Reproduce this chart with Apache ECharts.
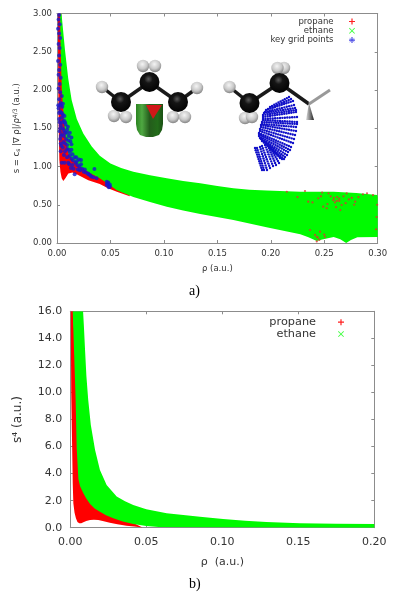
<!DOCTYPE html>
<html>
<head>
<meta charset="utf-8">
<title>propane ethane</title>
<script src="https://cdn.jsdelivr.net/npm/echarts@6/dist/echarts.min.js"></script>
<style>
html, body { margin: 0; padding: 0; background: #fff; }
#main { width: 403px; height: 595px; }
</style>
</head>
<body>
<div id="main"></div>
<script>
// panel a) outlines of the filled clouds
var aEthaneRho = [0.0028, 0.0042, 0.0075, 0.0105, 0.0137, 0.0185, 0.0246, 0.0325, 0.0400, 0.0500, 0.0600, 0.0714, 0.0870, 0.1027, 0.1180, 0.1340, 0.1500, 0.1650, 0.1800, 0.1960, 0.2276, 0.2588, 0.2800, 0.2995, 0.3000,
                  0.3000, 0.2810, 0.2750, 0.2705, 0.2650, 0.2588, 0.2480, 0.2430, 0.2352, 0.2276, 0.1960, 0.1650, 0.1340, 0.1180, 0.1027, 0.0870, 0.0714, 0.0560, 0.0480, 0.0400, 0.0300, 0.0215, 0.0150, 0.0106, 0.0085, 0.0065, 0.0045, 0.0035];
var aEthaneS   = [3.00, 3.00, 2.52, 2.15, 1.87, 1.62, 1.43, 1.26, 1.14, 1.04, 0.98, 0.93, 0.885, 0.845, 0.81, 0.78, 0.745, 0.715, 0.695, 0.685, 0.67, 0.67, 0.655, 0.627, 0.60,
                  0.08, 0.075, 0.04, 0.00, 0.05, 0.08, 0.045, 0.026, 0.075, 0.115, 0.205, 0.30, 0.38, 0.425, 0.475, 0.535, 0.60, 0.69, 0.77, 0.845, 0.92, 1.00, 1.08, 1.17, 1.33, 1.60, 2.00, 2.50];
var aPropaneRho = [0.0008, 0.0012, 0.0016, 0.0022, 0.0032, 0.0044, 0.0059, 0.0080, 0.0106, 0.0145, 0.0184, 0.0293, 0.0400, 0.0477, 0.0560, 0.0640, 0.0680,
                   0.0680, 0.0400, 0.0200, 0.0120, 0.0060, 0.0040];
var aPropaneS   = [3.00, 2.00, 1.50, 1.085, 0.93, 0.845, 0.81, 0.85, 0.91, 0.92, 0.90, 0.82, 0.77, 0.715, 0.67, 0.63, 0.61,
                   0.66, 0.95, 1.15, 1.40, 2.00, 3.00];

// panel a) red points lying over the green cloud
var aSpeckRho = [0.2320, 0.2585, 0.2617, 0.2757, 0.2710, 0.2523, 0.2490, 0.2663, 0.2444, 0.2956, 0.2862, 0.2430, 0.2454, 0.2507, 0.2460, 0.2367, 0.2414, 0.2640, 0.2600, 0.2700, 0.2560, 0.2150, 0.2350, 0.2780, 0.2995, 0.2990, 0.2985, 0.2480, 0.2650, 0.2250,
                 0.2590, 0.2620, 0.2640, 0.2680, 0.2730, 0.2790, 0.2430, 0.2440, 0.2500, 0.2540, 0.2820, 0.2900, 0.2530, 0.2470, 0.2390, 0.2610];
var aSpeckS   = [0.680, 0.560, 0.550, 0.590, 0.650, 0.454, 0.475, 0.497, 0.585, 0.627, 0.637, 0.082, 0.040, 0.082, 0.148, 0.170, 0.105, 0.580, 0.530, 0.520, 0.610, 0.670, 0.540, 0.500, 0.500, 0.340, 0.180, 0.660, 0.430, 0.600,
                 0.590, 0.600, 0.550, 0.610, 0.570, 0.540, 0.020, 0.070, 0.110, 0.650, 0.600, 0.650, 0.510, 0.610, 0.530, 0.470];

// panel a) key grid points
var aKeyRho = [0.0020, 0.0015, 0.0025, 0.0010, 0.0020, 0.0030, 0.0015, 0.0025, 0.0020, 0.0010, 0.0030, 0.0020, 0.0015, 0.0035, 0.0025, 0.0015, 0.0030, 0.0045, 0.0020, 0.0035,
               0.0050, 0.0015, 0.0030, 0.0055, 0.0045, 0.0020, 0.0065, 0.0080, 0.0035, 0.0055, 0.0025, 0.0095, 0.0075, 0.0045, 0.0110, 0.0085, 0.0030, 0.0060, 0.0125, 0.0095,
               0.0040, 0.0135, 0.0110, 0.0075, 0.0035, 0.0145, 0.0120, 0.0165, 0.0150, 0.0175, 0.0145, 0.0190, 0.0225, 0.0210, 0.0235, 0.0195, 0.0250, 0.0270, 0.0295, 0.0320,
               0.0370, 0.0350, 0.0465, 0.0475, 0.0480, 0.0485, 0.0495, 0.0105, 0.0130, 0.0165, 0.0045, 0.0070,
               0.0012, 0.0030, 0.0055, 0.0020, 0.0045, 0.0070, 0.0025, 0.0050, 0.0075, 0.0102, 0.0030, 0.0065, 0.0090, 0.0120, 0.0035, 0.0065, 0.0135, 0.0105, 0.0035, 0.0075,
               0.0135, 0.0055, 0.0095, 0.0120, 0.0065, 0.0095, 0.0135, 0.0180, 0.0205, 0.0115, 0.0155, 0.0185, 0.0225, 0.0215, 0.0260, 0.0290, 0.0310, 0.0340, 0.0480, 0.0465, 0.0495];
var aKeyS   = [2.98, 2.92, 2.86, 2.80, 2.74, 2.68, 2.60, 2.55, 2.45, 2.38, 2.33, 2.26, 2.20, 2.16, 2.08, 2.02, 1.97, 1.92, 1.88, 1.83,
               1.78, 1.76, 1.72, 1.68, 1.64, 1.62, 1.60, 1.55, 1.54, 1.50, 1.46, 1.48, 1.44, 1.42, 1.40, 1.36, 1.36, 1.32, 1.33, 1.28,
               1.27, 1.22, 1.22, 1.20, 1.20, 1.16, 1.14, 1.12, 1.08, 1.05, 1.02, 1.02, 1.085, 1.00, 0.97, 0.96, 0.93, 0.92, 0.90, 0.87,
               0.845, 0.967, 0.80, 0.78, 0.75, 0.73, 0.76, 1.05, 0.98, 0.90, 1.05, 1.05,
               1.80, 1.80, 1.82, 1.70, 1.70, 1.66, 1.58, 1.58, 1.58, 1.52, 1.50, 1.47, 1.44, 1.44, 1.40, 1.40, 1.38, 1.34, 1.30, 1.30,
               1.29, 1.25, 1.23, 1.19, 1.15, 1.12, 1.10, 1.12, 1.09, 1.03, 0.97, 1.07, 1.03, 0.95, 0.96, 0.91, 0.885, 0.86, 0.79, 0.76, 0.735];

// panel b) outlines
var bEthaneRho = [0.0016, 0.0084, 0.0089, 0.0097, 0.0106, 0.0118, 0.0135, 0.0163, 0.0195, 0.0239, 0.0305, 0.0360, 0.0414, 0.0500, 0.0634, 0.0853, 0.1005, 0.1150, 0.1290, 0.1510, 0.1750, 0.2000,
                  0.2000, 0.0580, 0.0500, 0.0414, 0.0345, 0.0283, 0.0235, 0.0195, 0.0160, 0.0130, 0.0105, 0.0086, 0.0065, 0.0053, 0.0042, 0.0035, 0.0025];
var bEthaneS   = [16.0, 16.0, 15.0, 13.15, 11.2, 9.45, 7.60, 5.75, 4.27, 3.16, 2.30, 1.95, 1.68, 1.36, 1.06, 0.81, 0.64, 0.52, 0.42, 0.33, 0.29, 0.27,
                  0.00, 0.05, 0.13, 0.27, 0.45, 0.69, 0.92, 1.18, 1.42, 1.75, 2.15, 2.54, 3.05, 3.60, 5.90, 9.50, 13.0];
var bPropaneRho = [0.0003, 0.0006, 0.0012, 0.0016, 0.0020, 0.0028, 0.0037, 0.0047, 0.0059, 0.0072, 0.0086, 0.0105, 0.0130, 0.0155, 0.0184, 0.0220, 0.0260, 0.0310, 0.0370, 0.0420, 0.0475,
                   0.0300, 0.0120, 0.0060, 0.0040, 0.0020];
var bPropaneS   = [16.0, 10.0, 6.00, 3.30, 1.80, 1.10, 0.69, 0.42, 0.32, 0.33, 0.40, 0.50, 0.57, 0.59, 0.57, 0.48, 0.37, 0.26, 0.15, 0.08, 0.02,
                   1.00, 3.00, 6.00, 10.0, 16.0];

// axis ranges
var aRhoMax = 0.30, aSMax = 3, bRhoMax = 0.20, bSMax = 16;

// inset 1: the molecule atoms and the density cup
var carbons1 = [[149.5, 82], [121, 102], [178, 102]];
var hydrogens1 = [[143, 66], [155, 66], [102, 87], [114, 116], [126, 117], [173, 117], [185, 117], [197, 88]];
var bonds1 = [[149.5, 82, 121, 102], [149.5, 82, 178, 102], [121, 102, 102, 87], [178, 102, 197, 88]];
var cupOutline = [[136, 104], [163, 104], [163, 124], [162, 130], [159, 135], [153, 137], [146, 137], [140, 135], [137, 130], [136, 124]];
// inset 2: same molecule, turned
var carbons2 = [[279.5, 83], [249.5, 103]];
var hydrogens2 = [[284, 68], [277.5, 68], [229.5, 87], [245, 118], [252, 117]];
var bonds2 = [[279.5, 83, 249.5, 103], [279.5, 83, 309, 104], [249.5, 103, 229.5, 87]];
// rows of grid points in inset 2: x1, y1, x2, y2
var cloudRows = [
  [270, 107, 289, 97], [268, 109, 291, 99], [266, 110, 293, 101], [265, 112, 294, 105], [264, 113, 295, 108], [263, 115, 296, 110], [263, 117, 296, 112],
  [263, 119, 297, 117], [263, 120, 297, 122], [262, 122, 297, 124], [262, 124, 296, 127], [261, 125, 296, 131], [261, 127, 295, 135], [260, 129, 294, 139], [260, 131, 293, 143],
  [259, 133, 291, 147], [259, 134, 290, 150], [259, 136, 288, 152], [260, 138, 287, 155], [261, 139, 285, 157], [262, 141, 284, 159], [264, 142, 282, 159], [266, 143, 280, 158],
  [255, 148, 262, 170], [257, 148, 264, 170], [260, 147, 267, 170], [262, 146, 270, 168], [265, 145, 273, 166], [268, 146, 276, 165], [270, 147, 279, 163]
];

var ec = echarts.init(document.getElementById('main'));

function sphere(c, r, dark) {
  var stops = dark
    ? [{offset: 0, color: '#5a5a5a'}, {offset: 0.3, color: '#151515'}, {offset: 1, color: '#000'}]
    : [{offset: 0, color: '#f4f4f4'}, {offset: 0.55, color: '#c8c8c8'}, {offset: 1, color: '#777'}];
  return {
    type: 'circle', shape: {cx: c[0], cy: c[1], r: r}, z: 20,
    style: {fill: new echarts.graphic.RadialGradient(0.45, 0.35, 0.7, stops)}
  };
}

function stick(b) {
  return {
    type: 'line', shape: {x1: b[0], y1: b[1], x2: b[2], y2: b[3]}, z: 19,
    style: {stroke: '#1a1a1a', lineWidth: 3.5}
  };
}

function insetElements() {
  var els = [];
  bonds1.concat(bonds2).forEach(function (b) { els.push(stick(b)); });
  // loose end of inset 2
  els.push({type: 'line', shape: {x1: 309, y1: 104, x2: 330, y2: 90}, z: 19, style: {stroke: '#999', lineWidth: 3}});
  els.push({type: 'polygon', shape: {points: [[309, 103], [306, 120], [314, 120]]}, z: 19,
    style: {fill: new echarts.graphic.LinearGradient(0, 0, 1, 0, [{offset: 0, color: '#ddd'}, {offset: 1, color: '#222'}])}});
  hydrogens1.concat(hydrogens2).forEach(function (c) { els.push(sphere(c, 6.2, false)); });
  carbons1.forEach(function (c) { els.push(sphere(c, 10, true)); });
  carbons2.forEach(function (c) { els.push(sphere(c, 10, true)); });
  // cup
  els.push({type: 'polygon', z: 21, shape: {points: cupOutline},
    style: {fill: new echarts.graphic.LinearGradient(0, 0, 1, 0, [
      {offset: 0, color: '#2a8320'}, {offset: 0.22, color: '#4fa842'}, {offset: 0.5, color: '#245c1c'},
      {offset: 0.8, color: '#236c1a'}, {offset: 1, color: '#1a5014'}])}});
  els.push({type: 'polygon', shape: {points: [[146, 105], [162, 105], [153, 119]]}, z: 22,
    style: {fill: '#d01818'}});
  cloudRows.forEach(function (r) {
    var len = Math.sqrt((r[2] - r[0]) * (r[2] - r[0]) + (r[3] - r[1]) * (r[3] - r[1]));
    var n = Math.round(len / 2.4);
    for (var i = 0; i <= n; i++) {
      els.push({type: 'circle', z: 23,
        shape: {cx: r[0] + (r[2] - r[0]) * i / n, cy: r[1] + (r[3] - r[1]) * i / n, r: 1.2},
        style: {fill: '#1010c8'}});
    }
  });
  els.push({type: 'text', left: 189, top: 284, style: {text: 'a)', font: '14px "Liberation Serif"', fill: '#000'}});
  els.push({type: 'text', left: 189, top: 577, style: {text: 'b)', font: '14px "Liberation Serif"', fill: '#000'}});
  return els;
}

function zip(a, b) {
  return a.map(function (v, i) { return [v, b[i]]; });
}

// whole cloud outline as one polygon, through the axis scales
function cloud(name, xi, rho, s, color, z) {
  return {
    name: name, type: 'custom', xAxisIndex: xi, yAxisIndex: xi, clip: true, z: z,
    data: zip(rho, s), itemStyle: {color: color}, silent: true,
    renderItem: function (params, api) {
      if (params.dataIndex !== 0) return;
      var pts = rho.map(function (v, i) { return api.coord([v, s[i]]); });
      return {type: 'polygon', shape: {points: pts}, style: {fill: color}};
    }
  };
}

var frame = {lineStyle: {color: '#8c8c8c', width: 1}};

function valueAxis(pos, grid, max, interval, digits, size, margin, extra) {
  var showLabels = pos === 'left' || pos === 'bottom';
  var ax = {
    type: 'value', gridIndex: grid, position: pos, min: 0, max: max, interval: interval,
    splitLine: {show: false},
    axisLine: {show: true, onZero: false, lineStyle: frame.lineStyle},
    axisTick: {show: true, inside: true, length: 3, lineStyle: frame.lineStyle},
    axisLabel: {
      show: showLabels, color: '#333', fontFamily: 'DejaVu Sans', fontSize: size, margin: margin,
      showMinLabel: true, showMaxLabel: true,
      formatter: function (v) { return v.toFixed(digits); }
    }
  };
  return Object.assign(ax, extra || {});
}

var plusIcon = 'path://M4 0h2v4h4v2H6v4H4V6H0V4h4z';
var crossIcon = 'path://M1 0l4 4 4-4 1 1-4 4 4 4-1 1-4-4-4 4-1-1 4-4-4-4z';
var starIcon = plusIcon + 'M1 1l4 4 4-4v1l-3 3 3 3v1l-4-4-4 4v-1l3-3-3-3z';

ec.setOption({
  animation: false,
  backgroundColor: '#fff',
  textStyle: {fontFamily: 'DejaVu Sans'},
  grid: [
    {left: 57, top: 13.5, width: 320.7, height: 229.5},
    {left: 70.3, top: 311.3, width: 304, height: 216.4}
  ],
  xAxis: [
    valueAxis('bottom', 0, aRhoMax, 0.05, 2, 8.5, 6, {
      name: 'ρ (a.u.)', nameLocation: 'middle', nameGap: 21,
      nameTextStyle: {color: '#333', fontSize: 8.5}
    }),
    valueAxis('bottom', 1, bRhoMax, 0.05, 2, 11, 9, {
      name: 'ρ  (a.u.)', nameLocation: 'middle', nameGap: 29,
      nameTextStyle: {color: '#333', fontSize: 11}
    }),
    valueAxis('top', 0, aRhoMax, 0.05, 2, 8.5, 5),
    valueAxis('top', 1, bRhoMax, 0.05, 2, 11, 5)
  ],
  yAxis: [
    valueAxis('left', 0, aSMax, 0.5, 2, 8.5, 5, {
      name: 's = c{sub|s} |∇ ρ|/ρ{sup|4/3} (a.u.)', nameLocation: 'middle', nameGap: 36, nameRotate: 90,
      nameTextStyle: {color: '#333', fontSize: 8.5, rich: {
        sub: {fontSize: 6, verticalAlign: 'bottom', color: '#333'},
        sup: {fontSize: 6, verticalAlign: 'top', color: '#333'}
      }}
    }),
    valueAxis('left', 1, bSMax, 2, 1, 11, 8, {
      name: 's⁴ (a.u.)', nameLocation: 'middle', nameGap: 46, nameRotate: 90,
      nameTextStyle: {color: '#333', fontSize: 12}
    }),
    valueAxis('right', 0, aSMax, 0.5, 2, 8.5, 5),
    valueAxis('right', 1, bSMax, 2, 1, 11, 5)
  ],
  legend: [
    {
      orient: 'vertical', align: 'right', right: 43, top: 12, itemWidth: 6, itemHeight: 6, itemGap: 0.3,
      selectedMode: false,
      textStyle: {color: '#333', fontSize: 8.5, padding: [0, 10.5, 0, 0]},
      data: [
        {name: 'propane', icon: plusIcon, itemStyle: {color: '#ff2020'}},
        {name: 'ethane', icon: crossIcon, itemStyle: {color: '#40ff40'}},
        {name: 'key grid points', icon: starIcon, itemStyle: {color: '#2020e0'}}
      ]
    },
    {
      orient: 'vertical', align: 'right', right: 54, top: 311.7, itemWidth: 6, itemHeight: 6, itemGap: 0.9,
      selectedMode: false,
      textStyle: {color: '#333', fontSize: 11.3, padding: [0, 17, 0, 0]},
      data: [
        {name: 'propane', icon: plusIcon, itemStyle: {color: '#ff2020'}},
        {name: 'ethane', icon: crossIcon, itemStyle: {color: '#40ff40'}}
      ]
    }
  ],
  series: [
    cloud('propane', 0, aPropaneRho, aPropaneS, '#ff0000', 2),
    cloud('ethane', 0, aEthaneRho, aEthaneS, '#00fa00', 3),
    {
      name: 'propane', type: 'scatter', xAxisIndex: 0, yAxisIndex: 0, z: 4, silent: true,
      symbolSize: 2.2, data: zip(aSpeckRho, aSpeckS), itemStyle: {color: '#e03030'}
    },
    {
      name: 'key grid points', type: 'scatter', xAxisIndex: 0, yAxisIndex: 0, z: 5, silent: true,
      symbolSize: 4, data: zip(aKeyRho, aKeyS), itemStyle: {color: '#1818d0'}
    },
    cloud('propane', 1, bPropaneRho, bPropaneS, '#ff0000', 2),
    cloud('ethane', 1, bEthaneRho, bEthaneS, '#00fa00', 3)
  ],
  graphic: {elements: insetElements()}
});
</script>
</body>
</html>
